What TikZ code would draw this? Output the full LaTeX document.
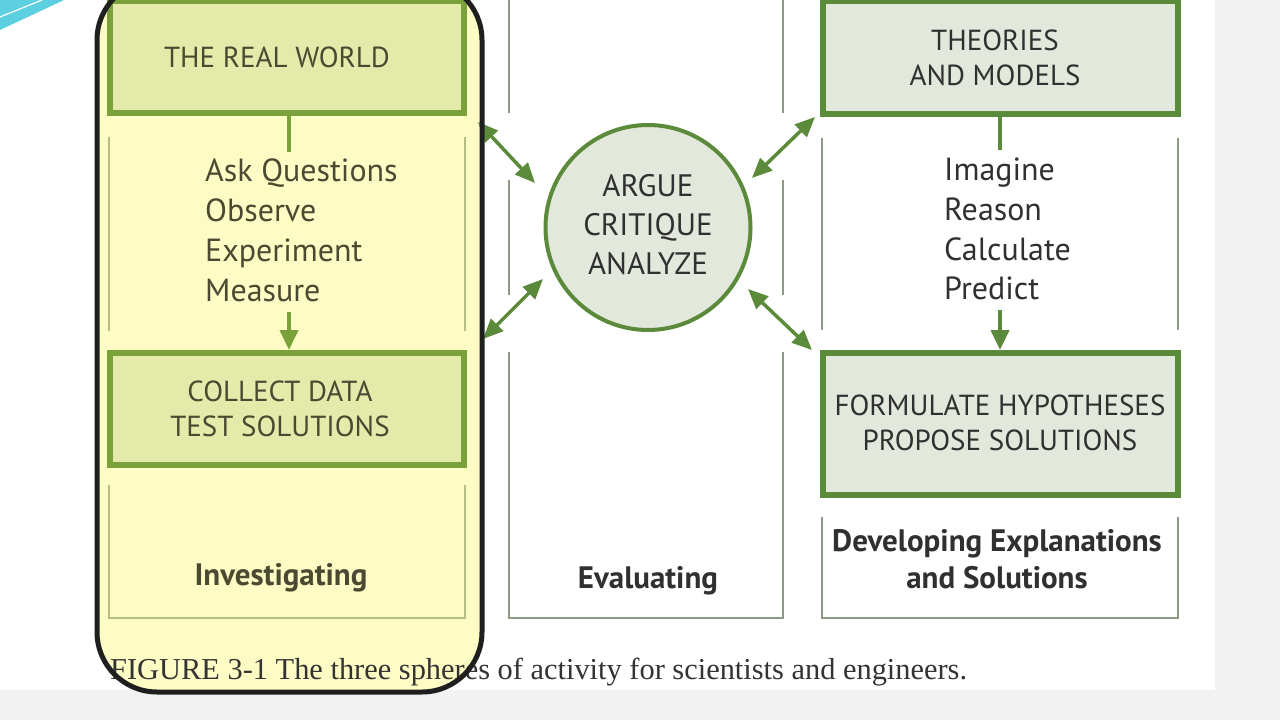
\documentclass[tikz,border=0pt]{standalone}
\usepackage{fontspec}
\setmainfont{PT Sans}
\newfontfamily\capfont{Liberation Serif}
\usetikzlibrary{arrows.meta,calc}
\definecolor{pagegray}{HTML}{F2F2F2}
\definecolor{cyanc}{HTML}{5CCFE0}
\definecolor{yel}{HTML}{FDFCC4}
\definecolor{ybox}{HTML}{E4EBAA}
\definecolor{yline}{HTML}{7BA23A}
\definecolor{gbox}{HTML}{E3E8DC}
\definecolor{gline}{HTML}{5A8A3A}
\definecolor{coly}{HTML}{B5BE86}
\definecolor{colw}{HTML}{8E9B84}
\definecolor{ytext}{HTML}{4A4A32}
\definecolor{gtext}{HTML}{303030}
\definecolor{captext}{HTML}{333333}
\tikzset{
  ybx/.style={draw=yline, fill=ybox, line width=6pt, minimum width=354pt, minimum height=112pt, inner sep=0pt},
  gbx/.style={draw=gline, fill=gbox, line width=6pt, minimum width=355pt, inner sep=0pt},
  boxtxt/.style={font=\fontsize{29}{35}\selectfont, align=center, inner sep=0pt},
  listtxt/.style={font=\fontsize{32}{39.7}\selectfont, align=left, inner sep=0pt, anchor=north west},
  lbl/.style={font=\bfseries\fontsize{31}{37}\selectfont, align=center, inner sep=0pt},
  ylink/.style={draw=yline, line width=4pt},
  glink/.style={draw=gline, line width=4pt},
  yarr/.style={ylink, -{Triangle[length=20pt,width=18pt]}},
  garr/.style={glink, -{Triangle[length=20pt,width=18pt]}},
  dbl/.style={draw=gline, line width=3.5pt, {Triangle[length=20pt,width=17pt]}-{Triangle[length=20pt,width=17pt]}},
  coll/.style={draw=coly, line width=1.4pt},
  colr/.style={draw=colw, line width=1.4pt},
}
\begin{document}
\begin{tikzpicture}[x=1pt,y=-1pt]
\useasboundingbox (0,0) rectangle (1280,720);
\clip (0,0) rectangle (1280,720);
% page backgrounds
\fill[pagegray] (0,0) rectangle (1280,720);
\fill[white] (0,0) rectangle (1215,690);
% slide decoration
\fill[cyanc] (0,0) -- (64,0) -- (0,30) -- cycle;
\draw[white, line width=1.2pt] (0,17) -- (42,0);
% yellow sphere background
\fill[yel, rounded corners=60pt] (97,-20) rectangle (482,692);
% column frames
\draw[coll] (109,137) -- (109,331) (465,137) -- (465,331);
\draw[coll] (109,485) -- (109,618) -- (465,618) -- (465,485);
\draw[colr] (509,0) -- (509,113) (783,0) -- (783,113);
\draw[colr] (509,180) -- (509,295) (783,180) -- (783,295);
\draw[colr] (509,352) -- (509,618) -- (783,618) -- (783,352);
\draw[colr] (822,138) -- (822,330) (1178,138) -- (1178,330);
\draw[colr] (822,517) -- (822,618) -- (1178,618) -- (1178,517);
% boxes
\node[ybx] (rw) at (287,57) {};
\node[ybx] (cd) at (287,409) {};
\node[gbx, minimum height=113pt] (th) at (1000.5,57.5) {};
\node[gbx, minimum height=142pt] (fh) at (1000.5,424) {};
\node[circle, draw=gline, fill=gbox, line width=4pt, minimum size=205pt, inner sep=0pt] (circ) at (648,227.5) {};
% box texts
\node[boxtxt, text=ytext] (rwt) at (277,57) {THE REAL WORLD};
\node[boxtxt, text=ytext] (cdt) at (280,409) {COLLECT DATA\\TEST SOLUTIONS};
\node[boxtxt, text=gtext] (tht) at (995,58) {THEORIES\\AND MODELS};
\node[boxtxt, text=gtext] (fht) at (1000,423) {FORMULATE HYPOTHESES\\PROPOSE SOLUTIONS};
\node[font=\fontsize{31}{39}\selectfont, align=center, inner sep=0pt, text=gtext] (ct) at (648,225) {ARGUE\\CRITIQUE\\ANALYZE};
% lists
\node[listtxt, text=ytext] (lst1) at (205,159) {Ask Questions\\Observe\\Experiment\\Measure};
\node[listtxt, text=gtext] (lst2) at (944,158) {Imagine\\Reason\\Calculate\\Predict};
% sphere labels
\node[lbl, text=ytext] (inv) at (281,578) {Investigating};
\node[lbl, text=gtext] (eva) at (648,581) {Evaluating};
\node[lbl, text=gtext] (dev) at (997,559) {Developing Explanations\\and Solutions};
% vertical links
\coordinate (l1e) at (289,152);
\coordinate (l1s) at (289,312);
\draw[ylink] (rw.south -| l1e) -- (l1e);
\draw[yarr] (l1s) -- (cd.north -| l1s);
\coordinate (r1e) at (1000,150);
\coordinate (r1s) at (1000,310);
\draw[glink] (th.south -| r1e) -- (r1e);
\draw[garr] (r1s) -- (fh.north -| r1s);
% double arrows
\coordinate (a1s) at ($(rw.south east)+(11,6)$);
\coordinate (a1e) at ($(circ.center)+(-113,-44.5)$);
\coordinate (a2s) at ($(cd.north east)+(16,-11)$);
\coordinate (a2e) at ($(circ.center)+(-105,51.5)$);
\coordinate (a3s) at ($(circ.center)+(104,-49.5)$);
\coordinate (a3e) at ($(th.south west)+(-5,0)$);
\coordinate (a4s) at ($(circ.center)+(100,61.5)$);
\coordinate (a4e) at ($(fh.north west)+(-8,0)$);
\draw[dbl] (a1s) -- (a1e);
\draw[dbl] (a2s) -- (a2e);
\draw[dbl] (a3s) -- (a3e);
\draw[dbl] (a4s) -- (a4e);
% caption
\node[font=\capfont\fontsize{30.4}{34}\selectfont, text=captext, anchor=west, inner sep=0pt] (cap) at (110,672) {FIGURE 3-1 The three spheres of activity for scientists and engineers.};
% black border on top
\draw[black!88, line width=5pt, rounded corners=60pt] (97,-20) rectangle (482,692);
\end{tikzpicture}
\end{document}
